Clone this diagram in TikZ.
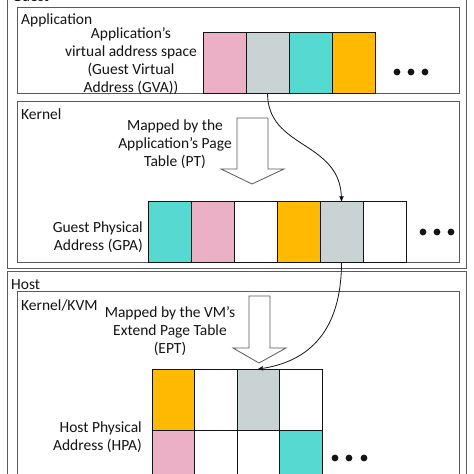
\documentclass[tikz,border=0pt]{standalone}
\usepackage{fontspec}
\setmainfont{Carlito}
\usepackage{tikz}
\usetikzlibrary{arrows,positioning}
\definecolor{pinkc}{HTML}{EBB0C6}
\definecolor{greyc}{HTML}{C9D3D4}
\definecolor{tealc}{HTML}{55D9D0}
\definecolor{orangec}{HTML}{FFBA00}
\definecolor{framec}{HTML}{5A5A5A}
\definecolor{inkc}{HTML}{141414}
\tikzset{
    %Define standard arrow tip
    >=stealth',
    %Define style for boxes
    layer/.style={
           draw=framec, line width=1pt},
    cell/.style={
           rectangle,
           draw=inkc, line width=0.8pt,
           minimum width=43pt,
           minimum height=61pt,
           inner sep=0pt, outer sep=0pt,
           anchor=north west},
    label/.style={
           font=\fontsize{15.5}{18}\selectfont,
           text=inkc,
           inner sep=0pt},
    % Define block arrow style
    bigarrow/.style={
           draw=framec, fill=white, line width=0.8pt},
    % Define arrow style
    pil/.style={
           ->,
           draw=inkc,
           line width=0.8pt}
}
\begin{document}
\begin{tikzpicture}[x=1pt,y=-1pt]
\useasboundingbox (0,0) rectangle (474,474);
\clip (0,0) rectangle (474,474);
\fill[white] (0,0) rectangle (474,474);

% guest side
\draw[layer] (7,-10) rectangle (466,268);
\node[label, anchor=base west] (guest) at (12,1) {Guest};
\draw[layer] (17,7) rectangle (459,93);
\node[label, anchor=west] (app) at (21,20) {Application};
\node[label, align=center] (gva) at (131,61)
  {Application’s\\virtual address space\\(Guest Virtual\\Address (GVA))};
\foreach \c [count=\i] in {pinkc,greyc,tealc,orangec}
  \node[cell, fill=\c] (va\i) at ({203+43*(\i-1)},32) {};
\foreach \x in {397,411,425}
  \fill[inkc] (\x,72) circle (3.4pt);

\draw[layer] (17,101) rectangle (459,262);
\node[label, anchor=west] (kernel) at (21,114) {Kernel};
\draw[bigarrow] (237,118) -- (268,118) -- (268,169) -- (284,169) -- (252,184)
  -- (221,169) -- (237,169) -- cycle;
\node[label, align=center] (pt) at (175,144)
  {Mapped by the\\Application’s Page\\Table (PT)};
\foreach \c [count=\i] in {tealc,pinkc,white,orangec,greyc,white}
  \node[cell, fill=\c] (gp\i) at ({148+43*(\i-1)},201) {};
\node[label, align=right, anchor=east] (gpa) at (143,237)
  {Guest Physical\\Address (GPA)};
\foreach \x in {423,437,451}
  \fill[inkc] (\x,232) circle (3.4pt);

% host side
\draw[layer] (7,271) rectangle (466,490);
\node[label, anchor=west] (host) at (11,285) {Host};
\draw[layer] (17,291) rectangle (459,490);
\node[label, anchor=west] (kvm) at (21,305) {Kernel/KVM};
\draw[bigarrow] (249,296) -- (270,296) -- (270,348) -- (286,348) -- (259,363)
  -- (233,348) -- (249,348) -- cycle;
\node[label, align=center] (ept) at (170,331)
  {Mapped by the VM’s\\Extend Page Table\\(EPT)};
\foreach \c [count=\i] in {orangec,white,greyc,white}
  \node[cell, fill=\c, minimum width=42.5pt] (hp\i) at ({152+42.5*(\i-1)},369) {};
\foreach \c [count=\i] in {pinkc,white,white,tealc}
  \node[cell, fill=\c, minimum width=42.5pt] (hq\i) at ({152+42.5*(\i-1)},430) {};
\node[label, align=right, anchor=east] (hpa) at (142,437)
  {Host Physical\\Address (HPA)};
\foreach \x in {335,349,364}
  \fill[inkc] (\x,458) circle (3.4pt);

% translations
\draw[pil] (va2.south) .. controls (267.5,150) and (341.5,140) .. (gp5.north);
\draw[pil] (gp5.south) .. controls (341.5,330) and (310,362) .. (hp3.north);
\end{tikzpicture}
\end{document}
